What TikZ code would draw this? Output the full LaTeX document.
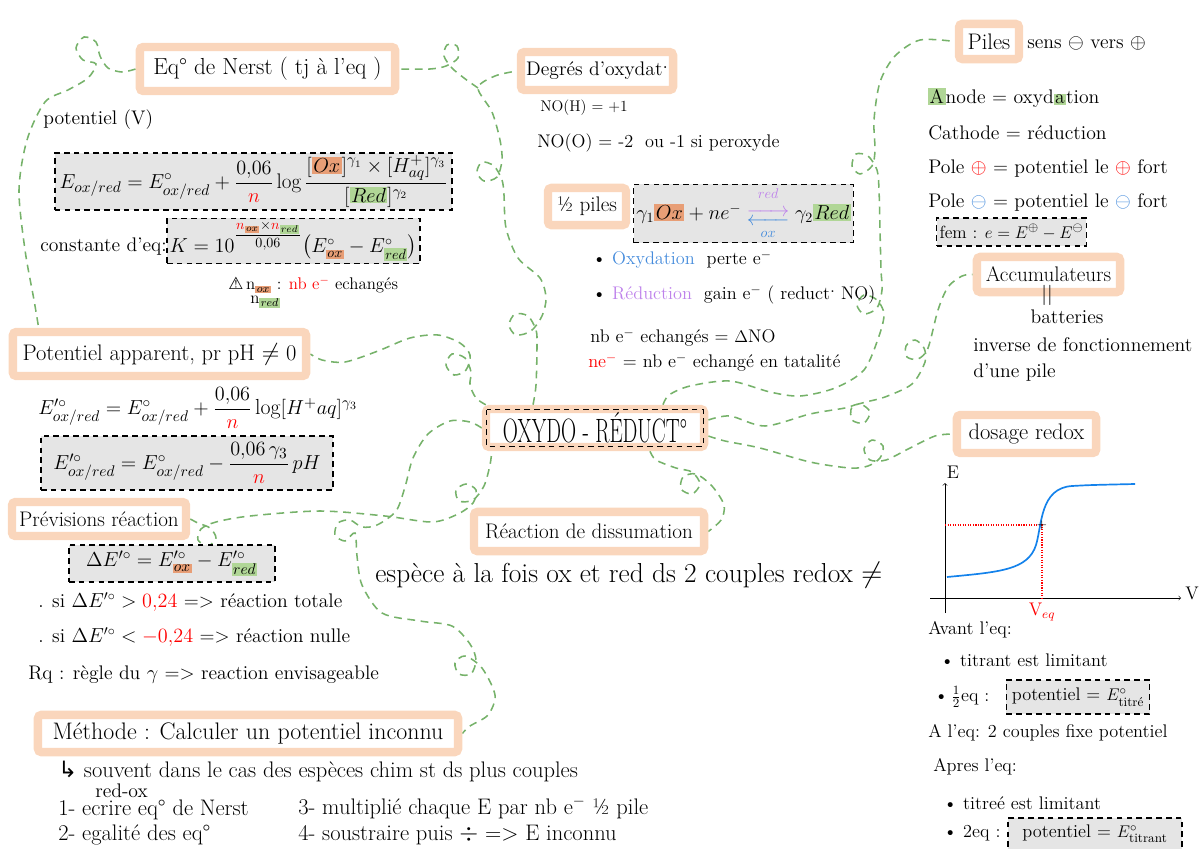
\documentclass[tikz,border=0pt]{standalone}
\usepackage{amsmath}
\usepackage{graphicx}
\usepackage{fontspec}
\usetikzlibrary{calc,backgrounds}
\newfontfamily\symfont{DejaVu Sans}

\definecolor{peach}{RGB}{250,214,188}
\definecolor{linkgreen}{RGB}{118,178,106}
\definecolor{boxgray}{RGB}{229,229,229}
\definecolor{oxhl}{RGB}{232,158,118}
\definecolor{redhl}{RGB}{176,214,150}
\definecolor{oxblue}{RGB}{70,140,220}
\definecolor{redpurple}{RGB}{190,130,235}
\definecolor{curveblue}{RGB}{20,130,235}

% surlignages
\newcommand\hox[1]{\text{\setlength\fboxsep{1pt}\colorbox{oxhl}{$#1$}}}
\newcommand\hred[1]{\text{\setlength\fboxsep{1pt}\colorbox{redhl}{$#1$}}}
\newcommand\hlg[1]{{\setlength\fboxsep{1pt}\colorbox{redhl}{#1}}}
\newcommand\abrdot{\raisebox{0.9ex}{.}}
\newcommand\redoxarrows{\mathrel{\overset{\textcolor{redpurple}{red}}{\underset{\textcolor{oxblue}{ox}}{\vcenter{\offinterlineskip
  \hbox{\textcolor{redpurple}{$\xrightarrow{\hspace{1.6em}}$}}\kern-3pt
  \hbox{\textcolor{oxblue}{$\xleftarrow{\hspace{1.6em}}$}}}}}}}

\begin{document}
\begin{tikzpicture}[x=0.025cm, y=-0.025cm,
    topic/.style={draw=peach, line width=6pt, fill=white, rounded corners=2.5pt,
      inner sep=1pt, font=\fontsize{15}{18}\selectfont},
    formula/.style={draw, line width=1pt, dash pattern=on 4pt off 3pt,
      fill=boxgray, inner sep=2pt, font=\fontsize{14}{17}\selectfont},
    note/.style={anchor=west, inner sep=0pt, font=\fontsize{14}{17}\selectfont},
    midnote/.style={note, font=\fontsize{13}{16}\selectfont},
    stepnote/.style={note, font=\fontsize{16}{19}\selectfont},
    link/.style={draw=linkgreen, line width=1.1pt, dash pattern=on 5.5pt off 4pt}
  ]
  \useasboundingbox (0,0) rectangle (1200,848);

  % centre et themes
  \node[topic, minimum width=5.45cm, minimum height=0.95cm] (oxred) at (595,428)
    {\scalebox{0.62}[1]{\fontsize{24}{26}\selectfont OXYDO - RÉDUCT°}};
  \draw[line width=1pt, dash pattern=on 4pt off 3pt]
    ($(oxred.north west)+(5,5)$) rectangle ($(oxred.south east)+(-5,-5)$);

  \node[topic, minimum width=6.38cm, minimum height=1.1cm, font=\fontsize{16.5}{19}\selectfont] (nerst) at (267.5,69) {Eq° de Nerst ( tj à l'eq )};
  \node[topic, minimum width=3.8cm, minimum height=0.95cm, font=\fontsize{14}{17}\selectfont] (degres) at (597,71) {Degrés d'oxydat\abrdot};
  \node[topic, minimum width=1.95cm, minimum height=0.93cm] (demipile) at (587,206.5) {½ piles};
  \node[topic, minimum width=1.5cm, minimum height=0.88cm, font=\fontsize{16}{19}\selectfont] (piles) at (989,41.5) {Piles};
  \node[topic, minimum width=3.58cm, minimum height=0.88cm] (accu) at (1048.5,274.5) {Accumulateurs};
  \node[topic, minimum width=3.48cm, minimum height=0.95cm, font=\fontsize{16}{19}\selectfont] (dosage) at (1026.5,434) {dosage redox};
  \node[topic, minimum width=7.33cm, minimum height=1.1cm, font=\fontsize{16}{19}\selectfont] (apparent) at (159.5,354) {Potentiel apparent, pr pH $\neq$ 0};
  \node[topic, minimum width=4.35cm, minimum height=0.85cm] (previsions) at (99,519) {Prévisions réaction};
  \node[topic, minimum width=5.75cm, minimum height=0.98cm] (dismut) at (589,531.5) {Réaction de dissumation};
  \node[topic, minimum width=10.5cm, minimum height=0.93cm, font=\fontsize{17}{20}\selectfont] (methode) at (248,733.5) {Méthode : Calculer un potentiel inconnu};

  % Nernst
  \node[note] (pot) at (43,120) {potentiel (V)};
  \node[formula, minimum width=9.93cm, minimum height=1.33cm, font=\fontsize{15}{18}\selectfont] (nerstf) at (253.5,181.5)
    {$E_{ox/red} = E^{\circ}_{ox/red} + \dfrac{0{,}06}{\textcolor{red}{n}}\log\dfrac{[\hox{Ox}]^{\gamma_1}\times[H^{+}_{aq}]^{\gamma_3}}{[\hred{Red}]^{\gamma_2}}$};
  \node[note] (kconst) at (40,247) {constante d'eq:};
  \node[formula, minimum width=5.93cm, minimum height=1.05cm] (kf) at (293.5,241)
    {$K = 10^{\genfrac{}{}{}{1}{\textcolor{red}{n}_{\hox{ox}}\times\textcolor{red}{n}_{\hred{red}}}{0{,}06}}\bigl(E^{\circ}_{\hox{ox}} - E^{\circ}_{\hred{red}}\bigr)$};
  \node[note, font=\fontsize{12}{14}\selectfont] (warn) at (228,285)
    {{\symfont ⚠}\,n$_{\hox{ox}}$ : \textcolor{red}{nb e$^-$} echangés};
  \node[note, font=\fontsize{12}{14}\selectfont] (warnred) at (250,302) {n$_{\hred{red}}$};

  % degres d'oxydation et demi-piles
  \node[note, font=\fontsize{11}{13}\selectfont] (noh) at (540,108) {NO(H) = +1};
  \node[midnote] (noo) at (537,143) {NO(O) = -2 \ ou -1 si peroxyde};
  \node[formula, minimum width=4.48cm, minimum height=1.43cm] (demif) at (743.5,213.5)
    {$\gamma_1\hox{Ox} + ne^- \redoxarrows \gamma_2\hred{Red}$};
  \node[midnote] (oxyd) at (592,260) {\textbullet\ \textcolor{oxblue}{Oxydation} \ perte e$^-$};
  \node[midnote] (reduc) at (592,295) {\textbullet\ \textcolor{redpurple}{Réduction} \ gain e$^-$ ( reduct\abrdot\ NO)};
  \node[midnote] (nbe) at (590,338) {nb e$^-$ echangés = $\Delta$NO};
  \node[midnote] (netot) at (588,363) {\textcolor{red}{ne$^-$} = nb e$^-$ echangé en tatalité};

  % piles
  \node[note] (sens) at (1027,43) {sens $\ominus$ vers $\oplus$};
  \node[note] (anode) at (928,98) {\hlg{A}node = oxyd\hlg{a}tion};
  \node[note] (cathode) at (928,133) {Cathode = réduction};
  \node[note] (poleplus) at (928,168) {Pole \textcolor{red}{$\oplus$} = potentiel le \textcolor{red}{$\oplus$} fort};
  \node[note] (polemoins) at (928,202) {Pole \textcolor{oxblue}{$\ominus$} = potentiel le \textcolor{oxblue}{$\ominus$} fort};
  \node[formula, minimum width=3.73cm, minimum height=0.7cm, font=\fontsize{12.5}{15}\selectfont] (femf) at (1011.5,232) {fem : $e = E^{\oplus} - E^{\ominus}$};

  % accumulateurs
  \node[note, anchor=center] (eqbars) at (1047,295) {$||$};
  \node[note, anchor=center] (batt) at (1067,317) {batteries};
  \node[note] (inverse) at (973,345) {inverse de fonctionnement};
  \node[note] (unepile) at (973,373) {d'une pile};

  % dosage
  \draw[-to, thin] (945,613) -- (945,483);
  \draw[-to, thin] (930,598) -- (1181,598);
  \node[midnote, anchor=center] (elabel) at (953,472) {E};
  \node[midnote, anchor=center] (vlabel) at (1192,593) {V};
  \draw[red, densely dotted, thick] (945,525) -- (1042,525) -- (1042,598);
  \draw[curveblue, line width=1.2pt] (947,577) .. controls (1000,572) and (1028,570) .. (1036,545)
    .. controls (1042,525) and (1040,488) .. (1072,486) .. controls (1090,485) .. (1135,484);
  \node[anchor=center, inner sep=0pt, font=\small] (pteq) at (1042,525) {+};
  \node[midnote, anchor=center, text=red] (veq) at (1042,612) {V$_{eq}$};
  \node[midnote] (avant) at (928,630) {Avant l'eq:};
  \node[midnote] (titrant) at (940,660) {\textbullet\ titrant est limitant};
  \node[midnote] (demieq) at (934,697) {\textbullet\,$\frac{1}{2}$eq :};
  \node[formula, minimum width=3.58cm, minimum height=0.85cm, font=\fontsize{13}{16}\selectfont] (titref) at (1078,697)
    {potentiel = $E^{\circ}_{\text{titré}}$};
  \node[midnote] (aleq) at (928,733) {A l'eq: 2 couples fixe potentiel};
  \node[midnote] (apres) at (933,767) {Apres l'eq:};
  \node[midnote] (titre) at (943,803) {\textbullet\ titreé est limitant};
  \node[midnote] (deuxeq) at (943,833) {\textbullet\ 2eq :};
  \node[formula, minimum width=4.35cm, minimum height=0.8cm, font=\fontsize{13}{16}\selectfont] (titrantf) at (1095,834)
    {potentiel = $E^{\circ}_{\text{titrant}}$};

  % potentiel apparent
  \node[note, font=\fontsize{15.5}{18}\selectfont] (appeq) at (38,408)
    {$E'^{\circ}_{ox/red} = E^{\circ}_{ox/red} + \dfrac{0{,}06}{\textcolor{red}{n}}\log[H^{+}aq]^{\gamma_3}$};
  \node[formula, minimum width=7.3cm, minimum height=1.35cm, font=\fontsize{15}{18}\selectfont] (appf) at (187,463)
    {$E'^{\circ}_{ox/red} = E^{\circ}_{ox/red} - \dfrac{0{,}06\,\gamma_3}{\textcolor{red}{n}}\,pH$};

  % previsions
  \node[formula, minimum width=5.15cm, minimum height=0.93cm, font=\fontsize{15}{18}\selectfont] (deltaf) at (172,563.5)
    {$\Delta E'^{\circ} = E'^{\circ}_{\hox{ox}} - E'^{\circ}_{\hred{red}}$};
  \node[note] (sitot) at (38,602) {. si $\Delta E'^{\circ} > \textcolor{red}{0{,}24}$ => réaction totale};
  \node[note] (sinul) at (38,637) {. si $\Delta E'^{\circ} < \textcolor{red}{-0{,}24}$ => réaction nulle};
  \node[note] (rq) at (28,675) {Rq : règle du $\gamma$ => reaction envisageable};

  % dismutation
  \node[note, font=\fontsize{19.5}{23}\selectfont] (espece) at (375,575) {espèce à la fois ox et red ds 2 couples redox $\neq$};

  % methode
  \node[stepnote] (souvent) at (58,771) {{\symfont ↳} souvent dans le cas des espèces chim st ds plus couples};
  \node[stepnote, font=\fontsize{14}{16}\selectfont] (redoxcpl) at (95,791) {red-ox};
  \node[stepnote] (etape1) at (58,810) {1- ecrire eq° de Nerst};
  \node[stepnote] (etape2) at (58,835) {2- egalité des eq°};
  \node[stepnote] (etape3) at (298,808) {3- multiplié chaque E par nb e$^-$ ½ pile};
  \node[stepnote] (etape4) at (298,835) {4- soustraire puis $\div$ => E inconnu};

  % liens
  \coordinate (l1s) at ($(oxred.north)+(-62,0)$);
  \coordinate (fork) at (478,88);
  \coordinate (l2s) at ($(oxred.north west)+(4,0)$);
  \coordinate (l3s) at ($(oxred.south west)+(10,0)$);
  \coordinate (l5s) at ($(oxred.south)+(55,0)$);
  \coordinate (l6s) at ($(oxred.north)+(68,0)$);
  \coordinate (l7s) at ($(oxred.east)+(0,-8)$);
  \coordinate (l8s) at ($(oxred.east)+(0,8)$);
  \coordinate (l9e) at ($(apparent.north west)+(30,0)$);
  \begin{scope}[on background layer]
    \draw[link] plot[smooth] coordinates {(l1s) (536,385) (537,345) (536,330) (528,316) (515,314) (509,325) (516,335) (531,331) (542,316) (546,298) (540,278) (518,258) (506,228) (504,195) (502,180) (494,166) (482,162) (477,172) (484,181) (497,177) (502,160) (500,140) (492,112) (fork) (495,76) (degres.west)};
    \draw[link] plot[smooth] coordinates {(fork) (464,78) (452,68) (444,56) (447,45) (457,46) (458,58) (446,66) (430,69) (nerst.east)};
    \draw[link] plot[smooth] coordinates {(l2s) (476,398) (470,385) (471,372) (465,358) (452,354) (446,365) (454,375) (466,370) (470,355) (460,343) (438,335) (410,338) (378,351) (345,362) (322,360) (apparent.east)};
    \draw[link] plot[smooth] coordinates {(nerst.west) (122,72) (108,68) (100,56) (96,42) (84,37) (76,48) (83,60) (96,64) (88,78) (68,90) (45,102) (27,140) (19,190) (25,250) (34,300) (l9e)};
    \draw[link] plot[smooth] coordinates {(previsions.east) (198,523) (210,528) (216,538) (208,546) (198,540) (201,529) (216,522) (250,516) (320,511) (385,516) (432,522) (458,514) (473,503) (476,490) (466,484) (456,490) (459,501) (473,500) (484,486) (490,465) (l3s)};
    \draw[link] plot[smooth] coordinates {(oxred.west) (470,422) (450,421) (428,434) (413,458) (405,487) (396,511) (377,525) (362,527) (350,520) (338,523) (335,535) (345,541) (355,533) (357,556) (362,585) (382,613) (420,621) (452,626) (470,644) (476,660) (471,674) (459,674) (455,663) (465,656) (482,668) (495,695) (488,715) (470,726) (methode.east)};
    \draw[link] plot[smooth] coordinates {(l5s) (656,460) (676,468) (692,472) (700,484) (692,494) (681,489) (683,477) (696,474) (712,486) (724,505) (721,520) (dismut.east)};
    \draw[link] plot[smooth] coordinates {(l6s) (669,395) (690,386) (730,381) (770,392) (800,396) (835,388) (864,370) (879,336) (884,314) (877,300) (864,295) (857,305) (864,314) (877,308) (882,290) (881,270) (880,230) (879,190) (877,170) (868,156) (856,154) (852,166) (860,174) (872,166) (875,150) (874,120) (880,82) (895,56) (920,40) (piles.west)};
    \draw[link] plot[smooth] coordinates {(l7s) (730,416) (765,426) (810,414) (845,408) (860,404) (870,412) (864,423) (852,420) (852,407) (866,402) (885,397) (912,384) (925,362) (924,348) (915,340) (906,346) (907,357) (918,359) (928,348) (938,310) (948,287) (962,276) (accu.west)};
    \draw[link] plot[smooth] coordinates {(l8s) (725,441) (760,448) (810,462) (850,468) (868,466) (880,458) (883,446) (872,440) (864,449) (870,460) (886,460) (910,448) (935,436) (dosage.west)};
  \end{scope}
\end{tikzpicture}
\end{document}
